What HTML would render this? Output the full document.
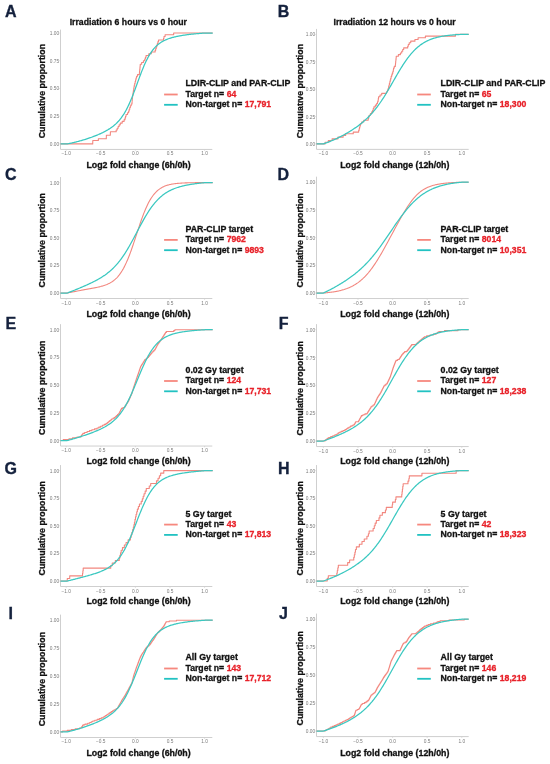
<!DOCTYPE html>
<html><head><meta charset="utf-8"><title>Cumulative distribution plots</title>
<style>
html,body{margin:0;padding:0;background:#fff;}
body{width:550px;height:764px;overflow:hidden;}
svg{display:block;}
text{font-family:"Liberation Sans", Arial, Helvetica, sans-serif;}
.let{font-size:16px;font-weight:bold;fill:#14213d;stroke:#14213d;stroke-width:0.35px;}
.lab{font-size:8.7px;font-weight:bold;fill:#111111;stroke:#111111;stroke-width:0.3px;}
.ylab{font-size:8.8px;}
.xlab{font-size:8.82px;}
.lgt{font-size:8.8px;}
.yt{font-size:4.8px;fill:#7a7a7a;text-anchor:end;}
.xt{font-size:4.8px;fill:#7a7a7a;text-anchor:middle;}
.ax{fill:none;stroke:#cfcfcf;stroke-width:1;}
.tk{fill:none;stroke:#cfcfcf;stroke-width:0.8;}
.red{fill:none;stroke:#f2877f;stroke-width:1.1;stroke-linejoin:round;}
.teal{fill:none;stroke:#3ac8c0;stroke-width:1.25;stroke-linejoin:round;}
</style></head>
<body><svg width="550" height="764" viewBox="0 0 550 764">
<text x="4.9" y="16.9" class="let">A</text>
<path d="M60.5 29.6 V149.44 H212.3" class="ax"/>
<path d="M59.3 143.9 H60.5" class="tk"/>
<text x="59.1" y="145.9" class="yt">0.00</text>
<path d="M59.3 116.18 H60.5" class="tk"/>
<text x="59.1" y="118.18" class="yt">0.25</text>
<path d="M59.3 88.45 H60.5" class="tk"/>
<text x="59.1" y="90.45" class="yt">0.50</text>
<path d="M59.3 60.72 H60.5" class="tk"/>
<text x="59.1" y="62.72" class="yt">0.75</text>
<path d="M59.3 33 H60.5" class="tk"/>
<text x="59.1" y="35" class="yt">1.00</text>
<path d="M66.22 149.44 V150.64" class="tk"/>
<text x="66.22" y="155.44" class="xt">−1.0</text>
<path d="M100.81 149.44 V150.64" class="tk"/>
<text x="100.81" y="155.44" class="xt">−0.5</text>
<path d="M135.4 149.44 V150.64" class="tk"/>
<text x="135.4" y="155.44" class="xt">0.0</text>
<path d="M169.99 149.44 V150.64" class="tk"/>
<text x="169.99" y="155.44" class="xt">0.5</text>
<path d="M204.58 149.44 V150.64" class="tk"/>
<text x="204.58" y="155.44" class="xt">1.0</text>
<path d="M60.5 143.9 H92.73 V142.17 H92.79 V140.43 H98.35 V138.7 H106.31 V136.97 H106.37 V135.24 H110.33 V133.5 H110.4 V131.77 H116.17 V130.04 H117.2 V128.3 H118.16 V126.57 H119.12 V124.84 H120.27 V123.11 H122.21 V121.37 H124.14 V119.64 H125.01 V117.91 H125.54 V116.18 H126.07 V114.44 H127.52 V112.71 H128.62 V110.98 H129.2 V109.24 H129.77 V107.51 H130.35 V105.78 H131.19 V104.05 H132.01 V102.31 H132.15 V100.58 H132.29 V98.85 H132.43 V97.11 H132.63 V95.38 H132.89 V93.65 H133.16 V91.92 H133.42 V90.18 H133.69 V88.45 H133.95 V86.72 H134.29 V84.98 H134.72 V83.25 H135.15 V81.52 H135.59 V79.79 H136.02 V78.05 H136.59 V76.32 H137.51 V74.59 H139.39 V72.85 H139.56 V71.12 H139.73 V69.39 H139.91 V67.66 H140.08 V65.92 H140.25 V64.19 H141.64 V62.46 H143.41 V60.72 H144.74 V58.99 H145.4 V57.26 H146.06 V55.53 H148.76 V53.79 H151.32 V52.06 H155.13 V50.33 H155.69 V48.6 H156.26 V46.86 H156.82 V45.13 H157.38 V43.4 H157.94 V41.66 H158.5 V39.93 H163.53 V38.2 H163.97 V36.47 H165.1 V34.73 H173.65 V33 H212.7" class="red"/>
<path d="M60.5 143.9 L67.42 143.9 L68.11 143.76 L68.8 143.62 L69.49 143.47 L70.19 143.32 L70.88 143.17 L71.57 143.02 L72.26 142.86 L72.95 142.7 L73.64 142.54 L74.34 142.38 L75.03 142.21 L75.72 142.04 L76.41 141.86 L77.1 141.69 L77.8 141.51 L78.49 141.32 L79.18 141.14 L79.87 140.95 L80.56 140.76 L81.25 140.56 L81.95 140.36 L82.64 140.16 L83.33 139.96 L84.02 139.75 L84.71 139.54 L85.41 139.32 L86.1 139.1 L86.79 138.88 L87.48 138.65 L88.17 138.42 L88.86 138.19 L89.56 137.95 L90.25 137.71 L90.94 137.47 L91.63 137.22 L92.32 136.97 L93.02 136.71 L93.71 136.45 L94.4 136.18 L95.09 135.91 L95.78 135.64 L96.47 135.36 L97.17 135.07 L97.86 134.78 L98.55 134.49 L99.24 134.18 L99.93 133.88 L100.63 133.56 L101.32 133.24 L102.01 132.91 L102.7 132.58 L103.39 132.23 L104.08 131.88 L104.78 131.52 L105.47 131.15 L106.16 130.77 L106.85 130.38 L107.54 129.97 L108.24 129.56 L108.93 129.13 L109.62 128.68 L110.31 128.23 L111 127.75 L111.69 127.26 L112.39 126.75 L113.08 126.22 L113.77 125.66 L114.46 125.09 L115.15 124.49 L115.85 123.86 L116.54 123.21 L117.23 122.52 L117.92 121.8 L118.61 121.05 L119.3 120.27 L120 119.44 L120.69 118.57 L121.38 117.67 L122.07 116.71 L122.76 115.71 L123.46 114.66 L124.15 113.57 L124.84 112.42 L125.53 111.21 L126.22 109.95 L126.91 108.64 L127.61 107.27 L128.3 105.85 L128.99 104.37 L129.68 102.84 L130.37 101.25 L131.07 99.61 L131.76 97.93 L132.45 96.2 L133.14 94.43 L133.83 92.63 L134.52 90.8 L135.22 88.94 L135.91 87.06 L136.6 85.17 L137.29 83.27 L137.98 81.37 L138.68 79.48 L139.37 77.61 L140.06 75.75 L140.75 73.93 L141.44 72.13 L142.13 70.37 L142.83 68.65 L143.52 66.98 L144.21 65.36 L144.9 63.79 L145.59 62.28 L146.29 60.83 L146.98 59.43 L147.67 58.1 L148.36 56.82 L149.05 55.6 L149.74 54.44 L150.44 53.34 L151.13 52.3 L151.82 51.31 L152.51 50.37 L153.2 49.49 L153.9 48.65 L154.59 47.86 L155.28 47.11 L155.97 46.41 L156.66 45.75 L157.35 45.12 L158.05 44.53 L158.74 43.98 L159.43 43.46 L160.12 42.96 L160.81 42.5 L161.51 42.06 L162.2 41.64 L162.89 41.25 L163.58 40.88 L164.27 40.53 L164.96 40.2 L165.66 39.88 L166.35 39.58 L167.04 39.3 L167.73 39.03 L168.42 38.77 L169.12 38.53 L169.81 38.3 L170.5 38.07 L171.19 37.86 L171.88 37.66 L172.57 37.47 L173.27 37.28 L173.96 37.1 L174.65 36.93 L175.34 36.77 L176.03 36.61 L176.73 36.46 L177.42 36.32 L178.11 36.18 L178.8 36.04 L179.49 35.91 L180.18 35.79 L180.88 35.66 L181.57 35.55 L182.26 35.43 L182.95 35.32 L183.64 35.22 L184.34 35.11 L185.03 35.01 L185.72 34.92 L186.41 34.82 L187.1 34.73 L187.79 34.64 L188.49 34.55 L189.18 34.47 L189.87 34.39 L190.56 34.31 L191.25 34.23 L191.95 34.16 L192.64 34.08 L193.33 34.01 L194.02 33.94 L194.71 33.88 L195.4 33.81 L196.1 33.75 L196.79 33.68 L197.48 33.62 L198.17 33.56 L198.86 33.51 L199.56 33.45 L200.25 33.39 L200.94 33.34 L201.63 33.29 L202.32 33.24 L203.01 33.19 L203.71 33.14 L204.4 33.09 L205.09 33.05 L205.78 33 L212.7 33" class="teal"/>
<text x="86.4" y="168.0" class="lab xlab">Log2 fold change (6h/0h)</text>
<text transform="translate(44.8 138.3) rotate(-90)" class="lab ylab">Cumulative proportion</text>
<text x="277.8" y="17.2" class="let">B</text>
<path d="M316.5 28.92 V149.38 H468.7" class="ax"/>
<path d="M315.3 143.9 H316.5" class="tk"/>
<text x="315.1" y="145.9" class="yt">0.00</text>
<path d="M315.3 116.53 H316.5" class="tk"/>
<text x="315.1" y="118.53" class="yt">0.25</text>
<path d="M315.3 89.15 H316.5" class="tk"/>
<text x="315.1" y="91.15" class="yt">0.50</text>
<path d="M315.3 61.78 H316.5" class="tk"/>
<text x="315.1" y="63.78" class="yt">0.75</text>
<path d="M315.3 34.4 H316.5" class="tk"/>
<text x="315.1" y="36.4" class="yt">1.00</text>
<path d="M323.42 149.38 V150.57" class="tk"/>
<text x="323.42" y="155.38" class="xt">−1.0</text>
<path d="M358.01 149.38 V150.57" class="tk"/>
<text x="358.01" y="155.38" class="xt">−0.5</text>
<path d="M392.6 149.38 V150.57" class="tk"/>
<text x="392.6" y="155.38" class="xt">0.0</text>
<path d="M427.19 149.38 V150.57" class="tk"/>
<text x="427.19" y="155.38" class="xt">0.5</text>
<path d="M461.78 149.38 V150.57" class="tk"/>
<text x="461.78" y="155.38" class="xt">1.0</text>
<path d="M316.5 143.9 H325.04 V142.22 H328.33 V140.53 H332.07 V138.85 H337.95 V137.16 H343.12 V135.48 H345.65 V133.79 H353.25 V132.11 H358.66 V130.42 H359.12 V128.74 H359.58 V127.05 H360.04 V125.37 H360.5 V123.68 H361.66 V122 H363.73 V120.32 H368.11 V118.63 H368.6 V116.95 H369.1 V115.26 H370.41 V113.58 H371.73 V111.89 H372.64 V110.21 H373.24 V108.52 H373.9 V106.84 H375.32 V105.15 H376.64 V103.47 H377.45 V101.78 H378.08 V100.1 H378.32 V98.42 H378.56 V96.73 H380.01 V95.05 H381.7 V93.36 H386.45 V91.68 H387.49 V89.99 H388.2 V88.31 H388.6 V86.62 H389 V84.94 H389.41 V83.25 H389.83 V81.57 H390.26 V79.88 H390.68 V78.2 H391.11 V76.52 H391.68 V74.83 H392.26 V73.15 H392.83 V71.46 H393.29 V69.78 H393.55 V68.09 H394.27 V66.41 H395.34 V64.72 H395.51 V63.04 H395.69 V61.35 H395.87 V59.67 H396.05 V57.98 H396.23 V56.3 H398.38 V54.62 H400.41 V52.93 H401.72 V51.25 H402.71 V49.56 H403.69 V47.88 H407.68 V46.19 H408.28 V44.51 H409.22 V42.82 H410.72 V41.14 H414.92 V39.45 H418.09 V37.77 H425.38 V36.08 H455.48 V34.4 H468.7" class="red"/>
<path d="M316.5 143.9 L323.42 143.9 L324.11 143.66 L324.8 143.42 L325.49 143.17 L326.19 142.92 L326.88 142.67 L327.57 142.4 L328.26 142.14 L328.95 141.87 L329.64 141.59 L330.34 141.31 L331.03 141.03 L331.72 140.74 L332.41 140.44 L333.1 140.14 L333.8 139.84 L334.49 139.53 L335.18 139.21 L335.87 138.9 L336.56 138.57 L337.25 138.24 L337.95 137.91 L338.64 137.57 L339.33 137.23 L340.02 136.88 L340.71 136.53 L341.41 136.17 L342.1 135.81 L342.79 135.44 L343.48 135.07 L344.17 134.69 L344.86 134.31 L345.56 133.92 L346.25 133.52 L346.94 133.12 L347.63 132.72 L348.32 132.31 L349.02 131.9 L349.71 131.47 L350.4 131.05 L351.09 130.61 L351.78 130.17 L352.47 129.73 L353.17 129.28 L353.86 128.82 L354.55 128.35 L355.24 127.87 L355.93 127.39 L356.63 126.9 L357.32 126.4 L358.01 125.9 L358.7 125.38 L359.39 124.86 L360.08 124.32 L360.78 123.78 L361.47 123.22 L362.16 122.66 L362.85 122.08 L363.54 121.49 L364.24 120.89 L364.93 120.28 L365.62 119.65 L366.31 119.01 L367 118.36 L367.69 117.69 L368.39 117.01 L369.08 116.31 L369.77 115.59 L370.46 114.86 L371.15 114.12 L371.85 113.35 L372.54 112.57 L373.23 111.77 L373.92 110.95 L374.61 110.12 L375.3 109.26 L376 108.39 L376.69 107.5 L377.38 106.59 L378.07 105.66 L378.76 104.71 L379.46 103.75 L380.15 102.76 L380.84 101.76 L381.53 100.73 L382.22 99.69 L382.91 98.63 L383.61 97.56 L384.3 96.47 L384.99 95.36 L385.68 94.24 L386.37 93.11 L387.07 91.96 L387.76 90.8 L388.45 89.63 L389.14 88.45 L389.83 87.26 L390.52 86.07 L391.22 84.86 L391.91 83.66 L392.6 82.45 L393.29 81.24 L393.98 80.03 L394.68 78.82 L395.37 77.62 L396.06 76.41 L396.75 75.22 L397.44 74.03 L398.13 72.85 L398.83 71.68 L399.52 70.53 L400.21 69.38 L400.9 68.25 L401.59 67.14 L402.29 66.04 L402.98 64.96 L403.67 63.89 L404.36 62.85 L405.05 61.83 L405.74 60.82 L406.44 59.84 L407.13 58.89 L407.82 57.95 L408.51 57.04 L409.2 56.15 L409.9 55.28 L410.59 54.44 L411.28 53.62 L411.97 52.83 L412.66 52.06 L413.35 51.31 L414.05 50.59 L414.74 49.89 L415.43 49.22 L416.12 48.57 L416.81 47.94 L417.51 47.33 L418.2 46.74 L418.89 46.18 L419.58 45.64 L420.27 45.12 L420.96 44.61 L421.66 44.13 L422.35 43.67 L423.04 43.22 L423.73 42.8 L424.42 42.39 L425.12 41.99 L425.81 41.62 L426.5 41.26 L427.19 40.91 L427.88 40.58 L428.57 40.27 L429.27 39.97 L429.96 39.68 L430.65 39.4 L431.34 39.14 L432.03 38.89 L432.73 38.65 L433.42 38.42 L434.11 38.2 L434.8 37.99 L435.49 37.79 L436.18 37.6 L436.88 37.42 L437.57 37.24 L438.26 37.08 L438.95 36.92 L439.64 36.77 L440.34 36.63 L441.03 36.49 L441.72 36.36 L442.41 36.24 L443.1 36.12 L443.79 36.01 L444.49 35.9 L445.18 35.8 L445.87 35.7 L446.56 35.61 L447.25 35.52 L447.95 35.44 L448.64 35.36 L449.33 35.28 L450.02 35.21 L450.71 35.14 L451.4 35.07 L452.1 35.01 L452.79 34.95 L453.48 34.9 L454.17 34.84 L454.86 34.79 L455.56 34.74 L456.25 34.7 L456.94 34.65 L457.63 34.61 L458.32 34.57 L459.01 34.53 L459.71 34.5 L460.4 34.46 L461.09 34.43 L461.78 34.4 L468.7 34.4" class="teal"/>
<text x="340.2" y="168.0" class="lab xlab">Log2 fold change (12h/0h)</text>
<text transform="translate(302.9 138.3) rotate(-90)" class="lab ylab">Cumulative proportion</text>
<text x="4.9" y="179.7" class="let">C</text>
<path d="M60.5 177.08 V298.52 H212.3" class="ax"/>
<path d="M59.3 293 H60.5" class="tk"/>
<text x="59.1" y="295" class="yt">0.00</text>
<path d="M59.3 265.4 H60.5" class="tk"/>
<text x="59.1" y="267.4" class="yt">0.25</text>
<path d="M59.3 237.8 H60.5" class="tk"/>
<text x="59.1" y="239.8" class="yt">0.50</text>
<path d="M59.3 210.2 H60.5" class="tk"/>
<text x="59.1" y="212.2" class="yt">0.75</text>
<path d="M59.3 182.6 H60.5" class="tk"/>
<text x="59.1" y="184.6" class="yt">1.00</text>
<path d="M66.22 298.52 V299.72" class="tk"/>
<text x="66.22" y="304.52" class="xt">−1.0</text>
<path d="M100.81 298.52 V299.72" class="tk"/>
<text x="100.81" y="304.52" class="xt">−0.5</text>
<path d="M135.4 298.52 V299.72" class="tk"/>
<text x="135.4" y="304.52" class="xt">0.0</text>
<path d="M169.99 298.52 V299.72" class="tk"/>
<text x="169.99" y="304.52" class="xt">0.5</text>
<path d="M204.58 298.52 V299.72" class="tk"/>
<text x="204.58" y="304.52" class="xt">1.0</text>
<path d="M60.5 293 L67.42 293 L68.11 292.86 L68.8 292.72 L69.49 292.58 L70.19 292.44 L70.88 292.3 L71.57 292.17 L72.26 292.03 L72.95 291.89 L73.64 291.75 L74.34 291.62 L75.03 291.48 L75.72 291.34 L76.41 291.21 L77.1 291.07 L77.8 290.94 L78.49 290.81 L79.18 290.68 L79.87 290.55 L80.56 290.42 L81.25 290.29 L81.95 290.16 L82.64 290.03 L83.33 289.91 L84.02 289.78 L84.71 289.65 L85.41 289.53 L86.1 289.41 L86.79 289.28 L87.48 289.16 L88.17 289.03 L88.86 288.91 L89.56 288.78 L90.25 288.66 L90.94 288.53 L91.63 288.41 L92.32 288.28 L93.02 288.15 L93.71 288.02 L94.4 287.88 L95.09 287.75 L95.78 287.61 L96.47 287.47 L97.17 287.32 L97.86 287.17 L98.55 287.01 L99.24 286.85 L99.93 286.68 L100.63 286.51 L101.32 286.32 L102.01 286.13 L102.7 285.93 L103.39 285.72 L104.08 285.5 L104.78 285.26 L105.47 285.02 L106.16 284.75 L106.85 284.48 L107.54 284.18 L108.24 283.87 L108.93 283.53 L109.62 283.18 L110.31 282.8 L111 282.39 L111.69 281.96 L112.39 281.5 L113.08 281.01 L113.77 280.49 L114.46 279.93 L115.15 279.33 L115.85 278.7 L116.54 278.02 L117.23 277.3 L117.92 276.53 L118.61 275.71 L119.3 274.84 L120 273.91 L120.69 272.93 L121.38 271.9 L122.07 270.8 L122.76 269.64 L123.46 268.42 L124.15 267.13 L124.84 265.77 L125.53 264.36 L126.22 262.87 L126.91 261.32 L127.61 259.71 L128.3 258.03 L128.99 256.29 L129.68 254.49 L130.37 252.64 L131.07 250.73 L131.76 248.78 L132.45 246.78 L133.14 244.75 L133.83 242.68 L134.52 240.59 L135.22 238.48 L135.91 236.36 L136.6 234.23 L137.29 232.11 L137.98 229.99 L138.68 227.89 L139.37 225.81 L140.06 223.76 L140.75 221.75 L141.44 219.77 L142.13 217.85 L142.83 215.97 L143.52 214.14 L144.21 212.38 L144.9 210.67 L145.59 209.03 L146.29 207.45 L146.98 205.94 L147.67 204.5 L148.36 203.12 L149.05 201.81 L149.74 200.56 L150.44 199.38 L151.13 198.26 L151.82 197.21 L152.51 196.21 L153.2 195.27 L153.9 194.39 L154.59 193.56 L155.28 192.79 L155.97 192.06 L156.66 191.38 L157.35 190.75 L158.05 190.16 L158.74 189.6 L159.43 189.09 L160.12 188.61 L160.81 188.16 L161.51 187.75 L162.2 187.36 L162.89 187 L163.58 186.67 L164.27 186.36 L164.96 186.07 L165.66 185.81 L166.35 185.56 L167.04 185.34 L167.73 185.13 L168.42 184.93 L169.12 184.75 L169.81 184.58 L170.5 184.43 L171.19 184.29 L171.88 184.16 L172.57 184.03 L173.27 183.92 L173.96 183.82 L174.65 183.72 L175.34 183.63 L176.03 183.55 L176.73 183.48 L177.42 183.41 L178.11 183.34 L178.8 183.28 L179.49 183.23 L180.18 183.18 L180.88 183.13 L181.57 183.09 L182.26 183.05 L182.95 183.01 L183.64 182.97 L184.34 182.94 L185.03 182.91 L185.72 182.89 L186.41 182.86 L187.1 182.84 L187.79 182.82 L188.49 182.8 L189.18 182.78 L189.87 182.77 L190.56 182.75 L191.25 182.74 L191.95 182.72 L192.64 182.71 L193.33 182.7 L194.02 182.69 L194.71 182.68 L195.4 182.67 L196.1 182.66 L196.79 182.66 L197.48 182.65 L198.17 182.64 L198.86 182.64 L199.56 182.63 L200.25 182.63 L200.94 182.62 L201.63 182.62 L202.32 182.62 L203.01 182.61 L203.71 182.61 L204.4 182.61 L205.09 182.6 L205.78 182.6 L212.7 182.6" class="red"/>
<path d="M60.5 293 L67.42 293 L68.11 292.73 L68.8 292.45 L69.49 292.18 L70.19 291.91 L70.88 291.63 L71.57 291.36 L72.26 291.08 L72.95 290.8 L73.64 290.52 L74.34 290.24 L75.03 289.96 L75.72 289.68 L76.41 289.4 L77.1 289.11 L77.8 288.83 L78.49 288.54 L79.18 288.25 L79.87 287.96 L80.56 287.67 L81.25 287.38 L81.95 287.08 L82.64 286.79 L83.33 286.49 L84.02 286.19 L84.71 285.89 L85.41 285.58 L86.1 285.27 L86.79 284.96 L87.48 284.65 L88.17 284.34 L88.86 284.02 L89.56 283.69 L90.25 283.37 L90.94 283.04 L91.63 282.7 L92.32 282.37 L93.02 282.02 L93.71 281.68 L94.4 281.32 L95.09 280.96 L95.78 280.6 L96.47 280.23 L97.17 279.85 L97.86 279.47 L98.55 279.08 L99.24 278.68 L99.93 278.27 L100.63 277.86 L101.32 277.43 L102.01 277 L102.7 276.55 L103.39 276.1 L104.08 275.63 L104.78 275.16 L105.47 274.67 L106.16 274.16 L106.85 273.65 L107.54 273.12 L108.24 272.57 L108.93 272.01 L109.62 271.44 L110.31 270.85 L111 270.24 L111.69 269.61 L112.39 268.96 L113.08 268.3 L113.77 267.61 L114.46 266.91 L115.15 266.18 L115.85 265.43 L116.54 264.66 L117.23 263.87 L117.92 263.06 L118.61 262.22 L119.3 261.35 L120 260.47 L120.69 259.55 L121.38 258.62 L122.07 257.66 L122.76 256.67 L123.46 255.66 L124.15 254.63 L124.84 253.57 L125.53 252.49 L126.22 251.38 L126.91 250.25 L127.61 249.1 L128.3 247.93 L128.99 246.74 L129.68 245.53 L130.37 244.31 L131.07 243.06 L131.76 241.8 L132.45 240.53 L133.14 239.25 L133.83 237.96 L134.52 236.65 L135.22 235.35 L135.91 234.03 L136.6 232.72 L137.29 231.4 L137.98 230.09 L138.68 228.78 L139.37 227.47 L140.06 226.17 L140.75 224.88 L141.44 223.6 L142.13 222.34 L142.83 221.08 L143.52 219.85 L144.21 218.63 L144.9 217.43 L145.59 216.25 L146.29 215.1 L146.98 213.96 L147.67 212.85 L148.36 211.77 L149.05 210.71 L149.74 209.67 L150.44 208.66 L151.13 207.68 L151.82 206.73 L152.51 205.8 L153.2 204.9 L153.9 204.03 L154.59 203.19 L155.28 202.37 L155.97 201.58 L156.66 200.81 L157.35 200.08 L158.05 199.37 L158.74 198.68 L159.43 198.02 L160.12 197.38 L160.81 196.77 L161.51 196.18 L162.2 195.61 L162.89 195.07 L163.58 194.54 L164.27 194.04 L164.96 193.55 L165.66 193.09 L166.35 192.64 L167.04 192.21 L167.73 191.8 L168.42 191.41 L169.12 191.03 L169.81 190.67 L170.5 190.32 L171.19 189.98 L171.88 189.66 L172.57 189.35 L173.27 189.06 L173.96 188.77 L174.65 188.5 L175.34 188.24 L176.03 187.99 L176.73 187.75 L177.42 187.51 L178.11 187.29 L178.8 187.08 L179.49 186.87 L180.18 186.67 L180.88 186.48 L181.57 186.3 L182.26 186.12 L182.95 185.95 L183.64 185.79 L184.34 185.63 L185.03 185.48 L185.72 185.33 L186.41 185.19 L187.1 185.05 L187.79 184.92 L188.49 184.79 L189.18 184.67 L189.87 184.55 L190.56 184.43 L191.25 184.32 L191.95 184.21 L192.64 184.11 L193.33 184.01 L194.02 183.91 L194.71 183.81 L195.4 183.72 L196.1 183.63 L196.79 183.54 L197.48 183.46 L198.17 183.38 L198.86 183.3 L199.56 183.22 L200.25 183.14 L200.94 183.07 L201.63 183 L202.32 182.93 L203.01 182.86 L203.71 182.79 L204.4 182.73 L205.09 182.66 L205.78 182.6 L212.7 182.6" class="teal"/>
<text x="86.4" y="317.0" class="lab xlab">Log2 fold change (6h/0h)</text>
<text transform="translate(44.8 287.4) rotate(-90)" class="lab ylab">Cumulative proportion</text>
<text x="277.6" y="179.6" class="let">D</text>
<path d="M316.5 176.66 V298.54 H468.7" class="ax"/>
<path d="M315.3 293 H316.5" class="tk"/>
<text x="315.1" y="295" class="yt">0.00</text>
<path d="M315.3 265.3 H316.5" class="tk"/>
<text x="315.1" y="267.3" class="yt">0.25</text>
<path d="M315.3 237.6 H316.5" class="tk"/>
<text x="315.1" y="239.6" class="yt">0.50</text>
<path d="M315.3 209.9 H316.5" class="tk"/>
<text x="315.1" y="211.9" class="yt">0.75</text>
<path d="M315.3 182.2 H316.5" class="tk"/>
<text x="315.1" y="184.2" class="yt">1.00</text>
<path d="M323.42 298.54 V299.74" class="tk"/>
<text x="323.42" y="304.54" class="xt">−1.0</text>
<path d="M358.01 298.54 V299.74" class="tk"/>
<text x="358.01" y="304.54" class="xt">−0.5</text>
<path d="M392.6 298.54 V299.74" class="tk"/>
<text x="392.6" y="304.54" class="xt">0.0</text>
<path d="M427.19 298.54 V299.74" class="tk"/>
<text x="427.19" y="304.54" class="xt">0.5</text>
<path d="M461.78 298.54 V299.74" class="tk"/>
<text x="461.78" y="304.54" class="xt">1.0</text>
<path d="M316.5 293 L323.42 293 L324.11 292.95 L324.8 292.89 L325.49 292.83 L326.19 292.77 L326.88 292.7 L327.57 292.63 L328.26 292.56 L328.95 292.48 L329.64 292.4 L330.34 292.32 L331.03 292.23 L331.72 292.14 L332.41 292.05 L333.1 291.94 L333.8 291.84 L334.49 291.73 L335.18 291.61 L335.87 291.49 L336.56 291.36 L337.25 291.23 L337.95 291.09 L338.64 290.94 L339.33 290.79 L340.02 290.62 L340.71 290.46 L341.41 290.28 L342.1 290.09 L342.79 289.9 L343.48 289.7 L344.17 289.49 L344.86 289.26 L345.56 289.03 L346.25 288.79 L346.94 288.54 L347.63 288.27 L348.32 287.99 L349.02 287.7 L349.71 287.4 L350.4 287.09 L351.09 286.76 L351.78 286.42 L352.47 286.06 L353.17 285.69 L353.86 285.3 L354.55 284.89 L355.24 284.47 L355.93 284.04 L356.63 283.58 L357.32 283.11 L358.01 282.62 L358.7 282.1 L359.39 281.57 L360.08 281.02 L360.78 280.45 L361.47 279.86 L362.16 279.25 L362.85 278.62 L363.54 277.96 L364.24 277.28 L364.93 276.58 L365.62 275.86 L366.31 275.11 L367 274.34 L367.69 273.55 L368.39 272.74 L369.08 271.9 L369.77 271.04 L370.46 270.15 L371.15 269.24 L371.85 268.31 L372.54 267.36 L373.23 266.38 L373.92 265.39 L374.61 264.37 L375.3 263.33 L376 262.27 L376.69 261.19 L377.38 260.09 L378.07 258.98 L378.76 257.84 L379.46 256.69 L380.15 255.53 L380.84 254.35 L381.53 253.15 L382.22 251.94 L382.91 250.72 L383.61 249.49 L384.3 248.25 L384.99 247 L385.68 245.75 L386.37 244.48 L387.07 243.21 L387.76 241.94 L388.45 240.66 L389.14 239.37 L389.83 238.09 L390.52 236.8 L391.22 235.51 L391.91 234.23 L392.6 232.94 L393.29 231.65 L393.98 230.37 L394.68 229.09 L395.37 227.81 L396.06 226.53 L396.75 225.26 L397.44 224 L398.13 222.74 L398.83 221.49 L399.52 220.25 L400.21 219.01 L400.9 217.78 L401.59 216.57 L402.29 215.36 L402.98 214.17 L403.67 212.99 L404.36 211.83 L405.05 210.68 L405.74 209.56 L406.44 208.45 L407.13 207.36 L407.82 206.29 L408.51 205.25 L409.2 204.23 L409.9 203.24 L410.59 202.27 L411.28 201.33 L411.97 200.42 L412.66 199.54 L413.35 198.69 L414.05 197.87 L414.74 197.08 L415.43 196.32 L416.12 195.59 L416.81 194.89 L417.51 194.22 L418.2 193.59 L418.89 192.97 L419.58 192.39 L420.27 191.84 L420.96 191.31 L421.66 190.81 L422.35 190.33 L423.04 189.88 L423.73 189.44 L424.42 189.04 L425.12 188.65 L425.81 188.28 L426.5 187.94 L427.19 187.61 L427.88 187.3 L428.57 187 L429.27 186.72 L429.96 186.46 L430.65 186.21 L431.34 185.98 L432.03 185.75 L432.73 185.54 L433.42 185.34 L434.11 185.16 L434.8 184.98 L435.49 184.81 L436.18 184.65 L436.88 184.5 L437.57 184.36 L438.26 184.22 L438.95 184.1 L439.64 183.98 L440.34 183.86 L441.03 183.75 L441.72 183.65 L442.41 183.56 L443.1 183.46 L443.79 183.38 L444.49 183.3 L445.18 183.22 L445.87 183.15 L446.56 183.08 L447.25 183.01 L447.95 182.95 L448.64 182.89 L449.33 182.83 L450.02 182.78 L450.71 182.73 L451.4 182.68 L452.1 182.64 L452.79 182.59 L453.48 182.55 L454.17 182.51 L454.86 182.48 L455.56 182.44 L456.25 182.41 L456.94 182.38 L457.63 182.35 L458.32 182.32 L459.01 182.29 L459.71 182.27 L460.4 182.24 L461.09 182.22 L461.78 182.2 L468.7 182.2" class="red"/>
<path d="M316.5 293 L323.42 293 L324.11 292.68 L324.8 292.35 L325.49 292.01 L326.19 291.68 L326.88 291.34 L327.57 291 L328.26 290.65 L328.95 290.3 L329.64 289.94 L330.34 289.58 L331.03 289.22 L331.72 288.86 L332.41 288.49 L333.1 288.11 L333.8 287.74 L334.49 287.35 L335.18 286.97 L335.87 286.58 L336.56 286.19 L337.25 285.79 L337.95 285.39 L338.64 284.98 L339.33 284.57 L340.02 284.16 L340.71 283.74 L341.41 283.32 L342.1 282.89 L342.79 282.46 L343.48 282.02 L344.17 281.57 L344.86 281.13 L345.56 280.67 L346.25 280.21 L346.94 279.75 L347.63 279.28 L348.32 278.8 L349.02 278.32 L349.71 277.83 L350.4 277.33 L351.09 276.83 L351.78 276.32 L352.47 275.8 L353.17 275.28 L353.86 274.74 L354.55 274.2 L355.24 273.65 L355.93 273.1 L356.63 272.53 L357.32 271.95 L358.01 271.37 L358.7 270.78 L359.39 270.17 L360.08 269.56 L360.78 268.93 L361.47 268.3 L362.16 267.66 L362.85 267 L363.54 266.33 L364.24 265.66 L364.93 264.97 L365.62 264.27 L366.31 263.56 L367 262.83 L367.69 262.1 L368.39 261.35 L369.08 260.59 L369.77 259.82 L370.46 259.03 L371.15 258.23 L371.85 257.43 L372.54 256.6 L373.23 255.77 L373.92 254.93 L374.61 254.07 L375.3 253.2 L376 252.32 L376.69 251.43 L377.38 250.53 L378.07 249.61 L378.76 248.69 L379.46 247.75 L380.15 246.81 L380.84 245.86 L381.53 244.9 L382.22 243.93 L382.91 242.95 L383.61 241.96 L384.3 240.97 L384.99 239.97 L385.68 238.97 L386.37 237.96 L387.07 236.95 L387.76 235.93 L388.45 234.91 L389.14 233.89 L389.83 232.87 L390.52 231.84 L391.22 230.82 L391.91 229.8 L392.6 228.77 L393.29 227.76 L393.98 226.74 L394.68 225.73 L395.37 224.72 L396.06 223.72 L396.75 222.73 L397.44 221.74 L398.13 220.76 L398.83 219.78 L399.52 218.82 L400.21 217.86 L400.9 216.92 L401.59 215.99 L402.29 215.06 L402.98 214.15 L403.67 213.26 L404.36 212.37 L405.05 211.5 L405.74 210.64 L406.44 209.79 L407.13 208.96 L407.82 208.15 L408.51 207.34 L409.2 206.56 L409.9 205.79 L410.59 205.03 L411.28 204.29 L411.97 203.57 L412.66 202.86 L413.35 202.16 L414.05 201.49 L414.74 200.83 L415.43 200.18 L416.12 199.55 L416.81 198.94 L417.51 198.34 L418.2 197.75 L418.89 197.19 L419.58 196.63 L420.27 196.1 L420.96 195.57 L421.66 195.07 L422.35 194.57 L423.04 194.09 L423.73 193.63 L424.42 193.17 L425.12 192.74 L425.81 192.31 L426.5 191.9 L427.19 191.5 L427.88 191.11 L428.57 190.74 L429.27 190.38 L429.96 190.03 L430.65 189.69 L431.34 189.36 L432.03 189.04 L432.73 188.73 L433.42 188.44 L434.11 188.15 L434.8 187.87 L435.49 187.6 L436.18 187.34 L436.88 187.09 L437.57 186.85 L438.26 186.62 L438.95 186.4 L439.64 186.18 L440.34 185.97 L441.03 185.77 L441.72 185.57 L442.41 185.39 L443.1 185.21 L443.79 185.03 L444.49 184.86 L445.18 184.7 L445.87 184.55 L446.56 184.4 L447.25 184.25 L447.95 184.11 L448.64 183.98 L449.33 183.85 L450.02 183.72 L450.71 183.6 L451.4 183.49 L452.1 183.38 L452.79 183.27 L453.48 183.17 L454.17 183.07 L454.86 182.97 L455.56 182.88 L456.25 182.79 L456.94 182.71 L457.63 182.63 L458.32 182.55 L459.01 182.47 L459.71 182.4 L460.4 182.33 L461.09 182.26 L461.78 182.2 L468.7 182.2" class="teal"/>
<text x="340.2" y="317.0" class="lab xlab">Log2 fold change (12h/0h)</text>
<text transform="translate(302.9 287.4) rotate(-90)" class="lab ylab">Cumulative proportion</text>
<text x="5.5" y="328.9" class="let">E</text>
<path d="M60.5 324.16 V446.04 H212.3" class="ax"/>
<path d="M59.3 440.5 H60.5" class="tk"/>
<text x="59.1" y="442.5" class="yt">0.00</text>
<path d="M59.3 412.8 H60.5" class="tk"/>
<text x="59.1" y="414.8" class="yt">0.25</text>
<path d="M59.3 385.1 H60.5" class="tk"/>
<text x="59.1" y="387.1" class="yt">0.50</text>
<path d="M59.3 357.4 H60.5" class="tk"/>
<text x="59.1" y="359.4" class="yt">0.75</text>
<path d="M59.3 329.7 H60.5" class="tk"/>
<text x="59.1" y="331.7" class="yt">1.00</text>
<path d="M66.22 446.04 V447.24" class="tk"/>
<text x="66.22" y="452.04" class="xt">−1.0</text>
<path d="M100.81 446.04 V447.24" class="tk"/>
<text x="100.81" y="452.04" class="xt">−0.5</text>
<path d="M135.4 446.04 V447.24" class="tk"/>
<text x="135.4" y="452.04" class="xt">0.0</text>
<path d="M169.99 446.04 V447.24" class="tk"/>
<text x="169.99" y="452.04" class="xt">0.5</text>
<path d="M204.58 446.04 V447.24" class="tk"/>
<text x="204.58" y="452.04" class="xt">1.0</text>
<path d="M60.5 440.5 H63.23 V439.61 H68.96 V438.71 H72.54 V437.82 H76.94 V436.93 H80.89 V436.03 H81.56 V435.14 H82.23 V434.25 H82.9 V433.35 H84.62 V432.46 H87.07 V431.56 H89.45 V430.67 H91.84 V429.78 H94.51 V428.88 H97.03 V427.99 H98.81 V427.1 H100.6 V426.2 H102.39 V425.31 H104.17 V424.42 H105.96 V423.52 H107.17 V422.63 H108.24 V421.74 H109.31 V420.84 H110.39 V419.95 H111.6 V419.05 H113.09 V418.16 H114.58 V417.27 H115.68 V416.37 H116.57 V415.48 H117.47 V414.59 H118.36 V413.69 H119.18 V412.8 H119.62 V411.91 H120.07 V411.01 H120.52 V410.12 H120.96 V409.23 H121.41 V408.33 H122.93 V407.44 H124.71 V406.55 H125.26 V405.65 H125.82 V404.76 H126.38 V403.86 H126.94 V402.97 H127.5 V402.08 H128.06 V401.18 H128.61 V400.29 H129.03 V399.4 H129.42 V398.5 H129.8 V397.61 H130.19 V396.72 H130.58 V395.82 H130.97 V394.93 H131.36 V394.04 H131.74 V393.14 H132.09 V392.25 H132.35 V391.35 H132.62 V390.46 H132.88 V389.57 H133.14 V388.67 H133.4 V387.78 H133.69 V386.89 H133.98 V385.99 H134.28 V385.1 H134.57 V384.21 H134.87 V383.31 H135.16 V382.42 H135.45 V381.53 H135.75 V380.63 H136.04 V379.74 H136.34 V378.85 H136.63 V377.95 H136.94 V377.06 H137.25 V376.16 H137.56 V375.27 H137.87 V374.38 H138.17 V373.48 H138.48 V372.59 H138.79 V371.7 H139.1 V370.8 H139.4 V369.91 H139.71 V369.02 H140.02 V368.12 H140.33 V367.23 H140.63 V366.34 H141.07 V365.44 H141.67 V364.55 H142.27 V363.65 H142.82 V362.76 H143.35 V361.87 H143.89 V360.97 H144.42 V360.08 H145.15 V359.19 H146.35 V358.29 H147.54 V357.4 H148.44 V356.51 H149.17 V355.61 H149.9 V354.72 H150.62 V353.83 H151.35 V352.93 H152.11 V352.04 H153.01 V351.15 H153.9 V350.25 H154.8 V349.36 H155.39 V348.46 H155.84 V347.57 H156.29 V346.68 H156.73 V345.78 H157.18 V344.89 H157.69 V344 H158.34 V343.1 H158.99 V342.21 H159.64 V341.32 H160.29 V340.42 H160.94 V339.53 H161.57 V338.64 H162.13 V337.74 H162.69 V336.85 H163.25 V335.95 H163.81 V335.06 H164.37 V334.17 H164.92 V333.27 H165.48 V332.38 H166.37 V331.49 H173.71 V330.59 H174.9 V329.7 H212.7" class="red"/>
<path d="M60.5 440.5 L67.42 440.5 L68.11 440.31 L68.8 440.13 L69.49 439.94 L70.19 439.75 L70.88 439.55 L71.57 439.36 L72.26 439.16 L72.95 438.96 L73.64 438.76 L74.34 438.56 L75.03 438.36 L75.72 438.15 L76.41 437.94 L77.1 437.73 L77.8 437.52 L78.49 437.31 L79.18 437.09 L79.87 436.88 L80.56 436.66 L81.25 436.44 L81.95 436.21 L82.64 435.99 L83.33 435.76 L84.02 435.53 L84.71 435.3 L85.41 435.07 L86.1 434.83 L86.79 434.59 L87.48 434.35 L88.17 434.1 L88.86 433.86 L89.56 433.61 L90.25 433.35 L90.94 433.1 L91.63 432.84 L92.32 432.57 L93.02 432.31 L93.71 432.04 L94.4 431.76 L95.09 431.48 L95.78 431.2 L96.47 430.91 L97.17 430.62 L97.86 430.32 L98.55 430.01 L99.24 429.7 L99.93 429.38 L100.63 429.06 L101.32 428.72 L102.01 428.38 L102.7 428.03 L103.39 427.67 L104.08 427.3 L104.78 426.93 L105.47 426.53 L106.16 426.13 L106.85 425.72 L107.54 425.29 L108.24 424.84 L108.93 424.39 L109.62 423.91 L110.31 423.42 L111 422.91 L111.69 422.38 L112.39 421.82 L113.08 421.25 L113.77 420.65 L114.46 420.03 L115.15 419.38 L115.85 418.71 L116.54 418.01 L117.23 417.27 L117.92 416.51 L118.61 415.71 L119.3 414.88 L120 414.01 L120.69 413.11 L121.38 412.17 L122.07 411.19 L122.76 410.17 L123.46 409.11 L124.15 408.01 L124.84 406.86 L125.53 405.68 L126.22 404.45 L126.91 403.18 L127.61 401.87 L128.3 400.51 L128.99 399.12 L129.68 397.69 L130.37 396.22 L131.07 394.72 L131.76 393.19 L132.45 391.62 L133.14 390.03 L133.83 388.41 L134.52 386.77 L135.22 385.12 L135.91 383.45 L136.6 381.78 L137.29 380.09 L137.98 378.41 L138.68 376.73 L139.37 375.06 L140.06 373.4 L140.75 371.76 L141.44 370.14 L142.13 368.54 L142.83 366.97 L143.52 365.42 L144.21 363.91 L144.9 362.44 L145.59 361 L146.29 359.61 L146.98 358.25 L147.67 356.94 L148.36 355.67 L149.05 354.45 L149.74 353.27 L150.44 352.14 L151.13 351.05 L151.82 350.01 L152.51 349.01 L153.2 348.06 L153.9 347.15 L154.59 346.28 L155.28 345.45 L155.97 344.66 L156.66 343.91 L157.35 343.2 L158.05 342.52 L158.74 341.88 L159.43 341.27 L160.12 340.69 L160.81 340.14 L161.51 339.62 L162.2 339.13 L162.89 338.66 L163.58 338.22 L164.27 337.8 L164.96 337.4 L165.66 337.02 L166.35 336.67 L167.04 336.33 L167.73 336.01 L168.42 335.71 L169.12 335.42 L169.81 335.14 L170.5 334.88 L171.19 334.64 L171.88 334.41 L172.57 334.18 L173.27 333.97 L173.96 333.77 L174.65 333.58 L175.34 333.4 L176.03 333.22 L176.73 333.06 L177.42 332.9 L178.11 332.75 L178.8 332.6 L179.49 332.47 L180.18 332.33 L180.88 332.21 L181.57 332.09 L182.26 331.97 L182.95 331.86 L183.64 331.75 L184.34 331.65 L185.03 331.55 L185.72 331.45 L186.41 331.36 L187.1 331.27 L187.79 331.19 L188.49 331.11 L189.18 331.03 L189.87 330.95 L190.56 330.88 L191.25 330.81 L191.95 330.74 L192.64 330.67 L193.33 330.6 L194.02 330.54 L194.71 330.48 L195.4 330.42 L196.1 330.36 L196.79 330.31 L197.48 330.25 L198.17 330.2 L198.86 330.15 L199.56 330.1 L200.25 330.05 L200.94 330 L201.63 329.95 L202.32 329.91 L203.01 329.87 L203.71 329.82 L204.4 329.78 L205.09 329.74 L205.78 329.7 L212.7 329.7" class="teal"/>
<text x="86.4" y="463.8" class="lab xlab">Log2 fold change (6h/0h)</text>
<text transform="translate(44.8 434.9) rotate(-90)" class="lab ylab">Cumulative proportion</text>
<text x="278.7" y="328.9" class="let">F</text>
<path d="M316.5 324.13 V446.56 H468.7" class="ax"/>
<path d="M315.3 441 H316.5" class="tk"/>
<text x="315.1" y="443" class="yt">0.00</text>
<path d="M315.3 413.18 H316.5" class="tk"/>
<text x="315.1" y="415.18" class="yt">0.25</text>
<path d="M315.3 385.35 H316.5" class="tk"/>
<text x="315.1" y="387.35" class="yt">0.50</text>
<path d="M315.3 357.52 H316.5" class="tk"/>
<text x="315.1" y="359.52" class="yt">0.75</text>
<path d="M315.3 329.7 H316.5" class="tk"/>
<text x="315.1" y="331.7" class="yt">1.00</text>
<path d="M323.42 446.56 V447.76" class="tk"/>
<text x="323.42" y="452.56" class="xt">−1.0</text>
<path d="M358.01 446.56 V447.76" class="tk"/>
<text x="358.01" y="452.56" class="xt">−0.5</text>
<path d="M392.6 446.56 V447.76" class="tk"/>
<text x="392.6" y="452.56" class="xt">0.0</text>
<path d="M427.19 446.56 V447.76" class="tk"/>
<text x="427.19" y="452.56" class="xt">0.5</text>
<path d="M461.78 446.56 V447.76" class="tk"/>
<text x="461.78" y="452.56" class="xt">1.0</text>
<path d="M316.5 441 H325.09 V440.12 H326.17 V439.25 H327.25 V438.37 H328.64 V437.49 H330.72 V436.62 H332.8 V435.74 H334.89 V434.87 H336.89 V433.99 H338 V433.11 H339.11 V432.24 H341.04 V431.36 H343.05 V430.48 H344.95 V429.61 H346.35 V428.73 H347.75 V427.85 H349.15 V426.98 H350.56 V426.1 H352.17 V425.23 H353.93 V424.35 H354.68 V423.47 H355.16 V422.6 H355.65 V421.72 H358.53 V420.84 H359 V419.97 H359.48 V419.09 H359.95 V418.21 H360.43 V417.34 H360.9 V416.46 H361.38 V415.59 H362.93 V414.71 H364.96 V413.83 H367.1 V412.96 H367.65 V412.08 H368.2 V411.2 H368.75 V410.33 H369.29 V409.45 H369.84 V408.57 H370.39 V407.7 H370.94 V406.82 H371.92 V405.94 H373.09 V405.07 H374.26 V404.19 H374.68 V403.32 H375.08 V402.44 H375.47 V401.56 H375.87 V400.69 H376.26 V399.81 H376.66 V398.93 H377.05 V398.06 H377.45 V397.18 H378 V396.3 H378.59 V395.43 H379.17 V394.55 H379.76 V393.68 H380.34 V392.8 H380.87 V391.92 H381.31 V391.05 H381.75 V390.17 H382.18 V389.29 H382.62 V388.42 H383.06 V387.54 H383.5 V386.66 H383.98 V385.79 H384.99 V384.91 H385.99 V384.04 H386.99 V383.16 H387.47 V382.28 H387.88 V381.41 H388.29 V380.53 H388.7 V379.65 H389.12 V378.78 H389.53 V377.9 H389.94 V377.02 H390.34 V376.15 H390.62 V375.27 H390.9 V374.4 H391.19 V373.52 H391.47 V372.64 H391.75 V371.77 H392.03 V370.89 H392.32 V370.01 H392.6 V369.14 H392.88 V368.26 H393.17 V367.38 H393.46 V366.51 H393.8 V365.63 H394.14 V364.76 H394.48 V363.88 H394.82 V363 H395.16 V362.13 H395.5 V361.25 H395.97 V360.37 H397.62 V359.5 H399.23 V358.62 H399.81 V357.74 H400.4 V356.87 H400.98 V355.99 H401.56 V355.11 H402.15 V354.24 H402.9 V353.36 H403.78 V352.49 H404.65 V351.61 H406.9 V350.73 H407.7 V349.86 H408.36 V348.98 H409.02 V348.1 H409.68 V347.23 H410.33 V346.35 H410.99 V345.47 H411.65 V344.6 H416.17 V343.72 H417.14 V342.85 H418.11 V341.97 H419.09 V341.09 H420.07 V340.22 H421.13 V339.34 H422.18 V338.46 H423.23 V337.59 H424.28 V336.71 H426.65 V335.83 H429.91 V334.96 H433.42 V334.08 H436.27 V333.21 H437.55 V332.33 H438.82 V331.45 H444.43 V330.58 H458.08 V329.7 H468.7" class="red"/>
<path d="M316.5 441 L323.42 441 L324.11 440.75 L324.8 440.5 L325.49 440.25 L326.19 439.99 L326.88 439.74 L327.57 439.48 L328.26 439.22 L328.95 438.96 L329.64 438.7 L330.34 438.43 L331.03 438.16 L331.72 437.89 L332.41 437.62 L333.1 437.35 L333.8 437.07 L334.49 436.8 L335.18 436.51 L335.87 436.23 L336.56 435.95 L337.25 435.66 L337.95 435.36 L338.64 435.07 L339.33 434.77 L340.02 434.47 L340.71 434.16 L341.41 433.85 L342.1 433.54 L342.79 433.22 L343.48 432.9 L344.17 432.57 L344.86 432.24 L345.56 431.9 L346.25 431.56 L346.94 431.21 L347.63 430.85 L348.32 430.49 L349.02 430.12 L349.71 429.75 L350.4 429.37 L351.09 428.98 L351.78 428.58 L352.47 428.17 L353.17 427.76 L353.86 427.33 L354.55 426.9 L355.24 426.46 L355.93 426 L356.63 425.54 L357.32 425.06 L358.01 424.57 L358.7 424.07 L359.39 423.56 L360.08 423.03 L360.78 422.49 L361.47 421.94 L362.16 421.37 L362.85 420.79 L363.54 420.19 L364.24 419.57 L364.93 418.94 L365.62 418.29 L366.31 417.62 L367 416.94 L367.69 416.24 L368.39 415.52 L369.08 414.78 L369.77 414.02 L370.46 413.24 L371.15 412.44 L371.85 411.62 L372.54 410.78 L373.23 409.92 L373.92 409.04 L374.61 408.14 L375.3 407.22 L376 406.27 L376.69 405.31 L377.38 404.33 L378.07 403.32 L378.76 402.3 L379.46 401.26 L380.15 400.2 L380.84 399.12 L381.53 398.02 L382.22 396.9 L382.91 395.77 L383.61 394.63 L384.3 393.46 L384.99 392.29 L385.68 391.1 L386.37 389.9 L387.07 388.69 L387.76 387.48 L388.45 386.25 L389.14 385.02 L389.83 383.78 L390.52 382.54 L391.22 381.29 L391.91 380.05 L392.6 378.8 L393.29 377.56 L393.98 376.32 L394.68 375.09 L395.37 373.86 L396.06 372.64 L396.75 371.42 L397.44 370.22 L398.13 369.03 L398.83 367.85 L399.52 366.69 L400.21 365.54 L400.9 364.41 L401.59 363.29 L402.29 362.19 L402.98 361.11 L403.67 360.05 L404.36 359.01 L405.05 357.99 L405.74 357 L406.44 356.02 L407.13 355.07 L407.82 354.14 L408.51 353.23 L409.2 352.35 L409.9 351.49 L410.59 350.65 L411.28 349.83 L411.97 349.04 L412.66 348.28 L413.35 347.53 L414.05 346.81 L414.74 346.11 L415.43 345.43 L416.12 344.78 L416.81 344.15 L417.51 343.54 L418.2 342.95 L418.89 342.38 L419.58 341.83 L420.27 341.3 L420.96 340.79 L421.66 340.29 L422.35 339.82 L423.04 339.37 L423.73 338.93 L424.42 338.5 L425.12 338.1 L425.81 337.71 L426.5 337.34 L427.19 336.98 L427.88 336.63 L428.57 336.3 L429.27 335.98 L429.96 335.68 L430.65 335.38 L431.34 335.1 L432.03 334.84 L432.73 334.58 L433.42 334.33 L434.11 334.09 L434.8 333.87 L435.49 333.65 L436.18 333.44 L436.88 333.24 L437.57 333.05 L438.26 332.87 L438.95 332.69 L439.64 332.53 L440.34 332.36 L441.03 332.21 L441.72 332.06 L442.41 331.92 L443.1 331.79 L443.79 331.66 L444.49 331.54 L445.18 331.42 L445.87 331.31 L446.56 331.2 L447.25 331.09 L447.95 330.99 L448.64 330.9 L449.33 330.81 L450.02 330.72 L450.71 330.64 L451.4 330.56 L452.1 330.48 L452.79 330.41 L453.48 330.34 L454.17 330.27 L454.86 330.21 L455.56 330.15 L456.25 330.09 L456.94 330.03 L457.63 329.98 L458.32 329.93 L459.01 329.88 L459.71 329.83 L460.4 329.79 L461.09 329.74 L461.78 329.7 L468.7 329.7" class="teal"/>
<text x="340.2" y="463.8" class="lab xlab">Log2 fold change (12h/0h)</text>
<text transform="translate(302.9 435.4) rotate(-90)" class="lab ylab">Cumulative proportion</text>
<text x="4.5" y="473.5" class="let">G</text>
<path d="M60.5 465.08 V586.52 H212.3" class="ax"/>
<path d="M59.3 581 H60.5" class="tk"/>
<text x="59.1" y="583" class="yt">0.00</text>
<path d="M59.3 553.4 H60.5" class="tk"/>
<text x="59.1" y="555.4" class="yt">0.25</text>
<path d="M59.3 525.8 H60.5" class="tk"/>
<text x="59.1" y="527.8" class="yt">0.50</text>
<path d="M59.3 498.2 H60.5" class="tk"/>
<text x="59.1" y="500.2" class="yt">0.75</text>
<path d="M59.3 470.6 H60.5" class="tk"/>
<text x="59.1" y="472.6" class="yt">1.00</text>
<path d="M66.22 586.52 V587.72" class="tk"/>
<text x="66.22" y="592.52" class="xt">−1.0</text>
<path d="M100.81 586.52 V587.72" class="tk"/>
<text x="100.81" y="592.52" class="xt">−0.5</text>
<path d="M135.4 586.52 V587.72" class="tk"/>
<text x="135.4" y="592.52" class="xt">0.0</text>
<path d="M169.99 586.52 V587.72" class="tk"/>
<text x="169.99" y="592.52" class="xt">0.5</text>
<path d="M204.58 586.52 V587.72" class="tk"/>
<text x="204.58" y="592.52" class="xt">1.0</text>
<path d="M60.5 581 H67.25 V578.43 H69.72 V575.87 H82.52 V573.3 H82.86 V570.73 H83.19 V568.16 H110.72 V565.6 H112.25 V563.03 H115.33 V560.46 H119.26 V557.89 H119.9 V555.33 H120.54 V552.76 H121.18 V550.19 H122.47 V547.62 H124.34 V545.06 H126.05 V542.49 H128.1 V539.92 H130.4 V537.35 H131.14 V534.79 H131.88 V532.22 H132.63 V529.65 H133.37 V527.08 H133.93 V524.52 H134.46 V521.95 H134.99 V519.38 H135.51 V516.81 H136.09 V514.25 H136.73 V511.68 H137.38 V509.11 H138.39 V506.54 H139.43 V503.98 H141.21 V501.41 H142.32 V498.84 H143.18 V496.27 H144.05 V493.71 H145.15 V491.14 H146.25 V488.57 H149.26 V486 H150.69 V483.44 H156.48 V480.87 H158.06 V478.3 H159.39 V475.73 H160.67 V473.17 H163.77 V470.6 H212.7" class="red"/>
<path d="M60.5 581 L67.42 581 L68.11 580.83 L68.8 580.66 L69.49 580.48 L70.19 580.31 L70.88 580.14 L71.57 579.96 L72.26 579.79 L72.95 579.62 L73.64 579.44 L74.34 579.27 L75.03 579.09 L75.72 578.92 L76.41 578.74 L77.1 578.56 L77.8 578.39 L78.49 578.21 L79.18 578.03 L79.87 577.85 L80.56 577.67 L81.25 577.49 L81.95 577.31 L82.64 577.13 L83.33 576.94 L84.02 576.76 L84.71 576.57 L85.41 576.39 L86.1 576.2 L86.79 576.01 L87.48 575.81 L88.17 575.62 L88.86 575.42 L89.56 575.23 L90.25 575.02 L90.94 574.82 L91.63 574.61 L92.32 574.4 L93.02 574.19 L93.71 573.97 L94.4 573.75 L95.09 573.53 L95.78 573.3 L96.47 573.06 L97.17 572.82 L97.86 572.58 L98.55 572.33 L99.24 572.07 L99.93 571.8 L100.63 571.53 L101.32 571.24 L102.01 570.95 L102.7 570.65 L103.39 570.34 L104.08 570.01 L104.78 569.67 L105.47 569.33 L106.16 568.96 L106.85 568.58 L107.54 568.19 L108.24 567.78 L108.93 567.34 L109.62 566.89 L110.31 566.42 L111 565.93 L111.69 565.41 L112.39 564.87 L113.08 564.3 L113.77 563.71 L114.46 563.08 L115.15 562.42 L115.85 561.73 L116.54 561.01 L117.23 560.25 L117.92 559.45 L118.61 558.61 L119.3 557.73 L120 556.81 L120.69 555.85 L121.38 554.84 L122.07 553.78 L122.76 552.68 L123.46 551.53 L124.15 550.34 L124.84 549.09 L125.53 547.8 L126.22 546.46 L126.91 545.07 L127.61 543.64 L128.3 542.16 L128.99 540.64 L129.68 539.08 L130.37 537.48 L131.07 535.84 L131.76 534.17 L132.45 532.47 L133.14 530.75 L133.83 529 L134.52 527.24 L135.22 525.47 L135.91 523.69 L136.6 521.91 L137.29 520.13 L137.98 518.35 L138.68 516.59 L139.37 514.85 L140.06 513.13 L140.75 511.43 L141.44 509.76 L142.13 508.12 L142.83 506.53 L143.52 504.97 L144.21 503.45 L144.9 501.97 L145.59 500.54 L146.29 499.16 L146.98 497.83 L147.67 496.55 L148.36 495.31 L149.05 494.13 L149.74 492.99 L150.44 491.9 L151.13 490.87 L151.82 489.88 L152.51 488.93 L153.2 488.03 L153.9 487.18 L154.59 486.37 L155.28 485.6 L155.97 484.87 L156.66 484.17 L157.35 483.52 L158.05 482.89 L158.74 482.31 L159.43 481.75 L160.12 481.22 L160.81 480.72 L161.51 480.25 L162.2 479.8 L162.89 479.38 L163.58 478.98 L164.27 478.6 L164.96 478.24 L165.66 477.9 L166.35 477.58 L167.04 477.27 L167.73 476.99 L168.42 476.71 L169.12 476.45 L169.81 476.2 L170.5 475.97 L171.19 475.74 L171.88 475.53 L172.57 475.32 L173.27 475.13 L173.96 474.94 L174.65 474.77 L175.34 474.6 L176.03 474.43 L176.73 474.28 L177.42 474.13 L178.11 473.98 L178.8 473.84 L179.49 473.71 L180.18 473.58 L180.88 473.46 L181.57 473.34 L182.26 473.22 L182.95 473.11 L183.64 473 L184.34 472.9 L185.03 472.8 L185.72 472.7 L186.41 472.6 L187.1 472.51 L187.79 472.41 L188.49 472.33 L189.18 472.24 L189.87 472.15 L190.56 472.07 L191.25 471.99 L191.95 471.91 L192.64 471.83 L193.33 471.76 L194.02 471.68 L194.71 471.61 L195.4 471.54 L196.1 471.47 L196.79 471.4 L197.48 471.33 L198.17 471.27 L198.86 471.2 L199.56 471.14 L200.25 471.07 L200.94 471.01 L201.63 470.95 L202.32 470.89 L203.01 470.83 L203.71 470.77 L204.4 470.71 L205.09 470.66 L205.78 470.6 L212.7 470.6" class="teal"/>
<text x="86.4" y="603.7" class="lab xlab">Log2 fold change (6h/0h)</text>
<text transform="translate(44.8 575.4) rotate(-90)" class="lab ylab">Cumulative proportion</text>
<text x="278.0" y="473.6" class="let">H</text>
<path d="M316.5 465.08 V586.52 H468.7" class="ax"/>
<path d="M315.3 581 H316.5" class="tk"/>
<text x="315.1" y="583" class="yt">0.00</text>
<path d="M315.3 553.4 H316.5" class="tk"/>
<text x="315.1" y="555.4" class="yt">0.25</text>
<path d="M315.3 525.8 H316.5" class="tk"/>
<text x="315.1" y="527.8" class="yt">0.50</text>
<path d="M315.3 498.2 H316.5" class="tk"/>
<text x="315.1" y="500.2" class="yt">0.75</text>
<path d="M315.3 470.6 H316.5" class="tk"/>
<text x="315.1" y="472.6" class="yt">1.00</text>
<path d="M323.42 586.52 V587.72" class="tk"/>
<text x="323.42" y="592.52" class="xt">−1.0</text>
<path d="M358.01 586.52 V587.72" class="tk"/>
<text x="358.01" y="592.52" class="xt">−0.5</text>
<path d="M392.6 586.52 V587.72" class="tk"/>
<text x="392.6" y="592.52" class="xt">0.0</text>
<path d="M427.19 586.52 V587.72" class="tk"/>
<text x="427.19" y="592.52" class="xt">0.5</text>
<path d="M461.78 586.52 V587.72" class="tk"/>
<text x="461.78" y="592.52" class="xt">1.0</text>
<path d="M316.5 581 H327.24 V578.37 H328.32 V575.74 H336.81 V573.11 H337.3 V570.49 H337.81 V567.86 H338.33 V565.23 H347.67 V562.6 H349.61 V559.97 H353.75 V557.34 H354.34 V554.71 H354.92 V552.09 H355.47 V549.46 H356.36 V546.83 H359.33 V544.2 H361.99 V541.57 H364.24 V538.94 H366.93 V536.31 H368.39 V533.69 H369.14 V531.06 H373.13 V528.43 H374.29 V525.8 H375.17 V523.17 H376.34 V520.54 H378.97 V517.91 H379.93 V515.29 H382.34 V512.66 H385.42 V510.03 H386.3 V507.4 H392.23 V504.77 H392.63 V502.14 H395.35 V499.51 H395.96 V496.89 H401.74 V494.26 H402.07 V491.63 H402.4 V489 H402.77 V486.37 H403.15 V483.74 H407.98 V481.11 H408.87 V478.49 H409.3 V475.86 H421.93 V473.23 H456.14 V470.6 H468.7" class="red"/>
<path d="M316.5 581 L323.42 581 L324.11 580.76 L324.8 580.52 L325.49 580.27 L326.19 580.02 L326.88 579.77 L327.57 579.51 L328.26 579.25 L328.95 578.98 L329.64 578.71 L330.34 578.43 L331.03 578.15 L331.72 577.87 L332.41 577.58 L333.1 577.29 L333.8 576.99 L334.49 576.69 L335.18 576.39 L335.87 576.08 L336.56 575.77 L337.25 575.45 L337.95 575.13 L338.64 574.81 L339.33 574.48 L340.02 574.15 L340.71 573.81 L341.41 573.47 L342.1 573.12 L342.79 572.77 L343.48 572.41 L344.17 572.06 L344.86 571.69 L345.56 571.32 L346.25 570.95 L346.94 570.57 L347.63 570.18 L348.32 569.79 L349.02 569.4 L349.71 568.99 L350.4 568.59 L351.09 568.17 L351.78 567.75 L352.47 567.32 L353.17 566.89 L353.86 566.45 L354.55 566 L355.24 565.54 L355.93 565.07 L356.63 564.6 L357.32 564.11 L358.01 563.62 L358.7 563.12 L359.39 562.6 L360.08 562.08 L360.78 561.55 L361.47 561 L362.16 560.44 L362.85 559.87 L363.54 559.28 L364.24 558.69 L364.93 558.07 L365.62 557.45 L366.31 556.81 L367 556.15 L367.69 555.48 L368.39 554.79 L369.08 554.09 L369.77 553.37 L370.46 552.63 L371.15 551.87 L371.85 551.09 L372.54 550.3 L373.23 549.49 L373.92 548.66 L374.61 547.81 L375.3 546.94 L376 546.05 L376.69 545.14 L377.38 544.21 L378.07 543.26 L378.76 542.3 L379.46 541.31 L380.15 540.3 L380.84 539.28 L381.53 538.24 L382.22 537.18 L382.91 536.1 L383.61 535.01 L384.3 533.9 L384.99 532.78 L385.68 531.64 L386.37 530.49 L387.07 529.33 L387.76 528.15 L388.45 526.97 L389.14 525.77 L389.83 524.57 L390.52 523.36 L391.22 522.15 L391.91 520.94 L392.6 519.72 L393.29 518.5 L393.98 517.28 L394.68 516.06 L395.37 514.85 L396.06 513.64 L396.75 512.44 L397.44 511.25 L398.13 510.06 L398.83 508.89 L399.52 507.73 L400.21 506.58 L400.9 505.44 L401.59 504.32 L402.29 503.22 L402.98 502.13 L403.67 501.06 L404.36 500.01 L405.05 498.98 L405.74 497.97 L406.44 496.98 L407.13 496.02 L407.82 495.07 L408.51 494.15 L409.2 493.25 L409.9 492.38 L410.59 491.52 L411.28 490.69 L411.97 489.89 L412.66 489.1 L413.35 488.34 L414.05 487.61 L414.74 486.9 L415.43 486.21 L416.12 485.54 L416.81 484.89 L417.51 484.27 L418.2 483.67 L418.89 483.09 L419.58 482.53 L420.27 481.99 L420.96 481.47 L421.66 480.97 L422.35 480.49 L423.04 480.03 L423.73 479.58 L424.42 479.16 L425.12 478.75 L425.81 478.35 L426.5 477.98 L427.19 477.61 L427.88 477.27 L428.57 476.93 L429.27 476.62 L429.96 476.31 L430.65 476.02 L431.34 475.74 L432.03 475.47 L432.73 475.22 L433.42 474.97 L434.11 474.74 L434.8 474.51 L435.49 474.3 L436.18 474.1 L436.88 473.9 L437.57 473.71 L438.26 473.54 L438.95 473.37 L439.64 473.2 L440.34 473.05 L441.03 472.9 L441.72 472.76 L442.41 472.63 L443.1 472.5 L443.79 472.37 L444.49 472.26 L445.18 472.15 L445.87 472.04 L446.56 471.94 L447.25 471.84 L447.95 471.75 L448.64 471.66 L449.33 471.58 L450.02 471.5 L450.71 471.42 L451.4 471.35 L452.1 471.28 L452.79 471.22 L453.48 471.16 L454.17 471.1 L454.86 471.04 L455.56 470.98 L456.25 470.93 L456.94 470.88 L457.63 470.84 L458.32 470.79 L459.01 470.75 L459.71 470.71 L460.4 470.67 L461.09 470.63 L461.78 470.6 L468.7 470.6" class="teal"/>
<text x="340.2" y="603.7" class="lab xlab">Log2 fold change (12h/0h)</text>
<text transform="translate(302.9 575.4) rotate(-90)" class="lab ylab">Cumulative proportion</text>
<text x="8.6" y="618.5" class="let">I</text>
<path d="M60.5 614.62 V737.49 H212.3" class="ax"/>
<path d="M59.3 731.9 H60.5" class="tk"/>
<text x="59.1" y="733.9" class="yt">0.00</text>
<path d="M59.3 703.98 H60.5" class="tk"/>
<text x="59.1" y="705.98" class="yt">0.25</text>
<path d="M59.3 676.05 H60.5" class="tk"/>
<text x="59.1" y="678.05" class="yt">0.50</text>
<path d="M59.3 648.12 H60.5" class="tk"/>
<text x="59.1" y="650.12" class="yt">0.75</text>
<path d="M59.3 620.2 H60.5" class="tk"/>
<text x="59.1" y="622.2" class="yt">1.00</text>
<path d="M66.22 737.49 V738.69" class="tk"/>
<text x="66.22" y="743.49" class="xt">−1.0</text>
<path d="M100.81 737.49 V738.69" class="tk"/>
<text x="100.81" y="743.49" class="xt">−0.5</text>
<path d="M135.4 737.49 V738.69" class="tk"/>
<text x="135.4" y="743.49" class="xt">0.0</text>
<path d="M169.99 737.49 V738.69" class="tk"/>
<text x="169.99" y="743.49" class="xt">0.5</text>
<path d="M204.58 737.49 V738.69" class="tk"/>
<text x="204.58" y="743.49" class="xt">1.0</text>
<path d="M60.5 731.9 H62.54 V731.12 H67.23 V730.34 H71.26 V729.56 H75.17 V728.78 H79.69 V727.99 H81.25 V727.21 H81.83 V726.43 H82.42 V725.65 H83 V724.87 H84.99 V724.09 H87.67 V723.31 H89.67 V722.53 H91.23 V721.75 H92.79 V720.96 H94.78 V720.18 H97.12 V719.4 H99.28 V718.62 H101.25 V717.84 H103.18 V717.06 H104.35 V716.28 H105.52 V715.5 H106.69 V714.72 H107.86 V713.93 H109.03 V713.15 H110.21 V712.37 H111.38 V711.59 H112.55 V710.81 H113.83 V710.03 H115.12 V709.25 H116.41 V708.47 H117.57 V707.69 H118 V706.9 H118.44 V706.12 H118.87 V705.34 H119.3 V704.56 H119.74 V703.78 H120.17 V703 H120.61 V702.22 H121.04 V701.44 H121.47 V700.66 H121.96 V699.87 H122.45 V699.09 H122.94 V698.31 H123.42 V697.53 H123.91 V696.75 H124.4 V695.97 H124.89 V695.19 H125.38 V694.41 H125.82 V693.63 H126.25 V692.84 H126.68 V692.06 H127.12 V691.28 H127.55 V690.5 H127.98 V689.72 H128.41 V688.94 H128.84 V688.16 H129.27 V687.38 H129.7 V686.6 H130.13 V685.81 H130.55 V685.03 H130.95 V684.25 H131.35 V683.47 H131.75 V682.69 H132.07 V681.91 H132.26 V681.13 H132.44 V680.35 H132.63 V679.57 H132.82 V678.78 H133 V678 H133.19 V677.22 H133.37 V676.44 H133.58 V675.66 H133.84 V674.88 H134.1 V674.1 H134.36 V673.32 H134.62 V672.53 H134.89 V671.75 H135.15 V670.97 H135.41 V670.19 H135.67 V669.41 H135.93 V668.63 H136.19 V667.85 H136.47 V667.07 H136.76 V666.29 H137.05 V665.5 H137.34 V664.72 H137.63 V663.94 H137.91 V663.16 H138.2 V662.38 H138.49 V661.6 H138.78 V660.82 H139.07 V660.04 H139.36 V659.26 H139.64 V658.47 H139.93 V657.69 H140.3 V656.91 H140.69 V656.13 H141.08 V655.35 H141.47 V654.57 H141.95 V653.79 H142.47 V653.01 H142.99 V652.23 H143.51 V651.44 H144.03 V650.66 H144.55 V649.88 H145.07 V649.1 H145.59 V648.32 H146.11 V647.54 H146.85 V646.76 H147.86 V645.98 H148.87 V645.2 H149.71 V644.41 H150.27 V643.63 H150.83 V642.85 H151.38 V642.07 H151.94 V641.29 H152.5 V640.51 H153.06 V639.73 H153.6 V638.95 H154.09 V638.17 H154.58 V637.38 H155.07 V636.6 H155.55 V635.82 H156.04 V635.04 H156.53 V634.26 H157.02 V633.48 H157.51 V632.7 H158.32 V631.92 H159.12 V631.14 H159.93 V630.35 H160.73 V629.57 H161.35 V628.79 H161.98 V628.01 H162.6 V627.23 H163.23 V626.45 H163.85 V625.67 H164.3 V624.89 H164.74 V624.11 H165.18 V623.32 H165.61 V622.54 H166.05 V621.76 H169.19 V620.98 H176.41 V620.2 H212.7" class="red"/>
<path d="M60.5 731.9 L67.42 731.9 L68.11 731.73 L68.8 731.56 L69.49 731.38 L70.19 731.2 L70.88 731.02 L71.57 730.84 L72.26 730.65 L72.95 730.47 L73.64 730.28 L74.34 730.08 L75.03 729.89 L75.72 729.69 L76.41 729.49 L77.1 729.29 L77.8 729.09 L78.49 728.88 L79.18 728.67 L79.87 728.45 L80.56 728.24 L81.25 728.02 L81.95 727.8 L82.64 727.58 L83.33 727.35 L84.02 727.12 L84.71 726.89 L85.41 726.65 L86.1 726.42 L86.79 726.17 L87.48 725.93 L88.17 725.68 L88.86 725.43 L89.56 725.18 L90.25 724.92 L90.94 724.66 L91.63 724.39 L92.32 724.12 L93.02 723.85 L93.71 723.57 L94.4 723.29 L95.09 723.01 L95.78 722.72 L96.47 722.42 L97.17 722.12 L97.86 721.81 L98.55 721.5 L99.24 721.18 L99.93 720.85 L100.63 720.52 L101.32 720.18 L102.01 719.83 L102.7 719.48 L103.39 719.11 L104.08 718.74 L104.78 718.35 L105.47 717.96 L106.16 717.55 L106.85 717.13 L107.54 716.7 L108.24 716.25 L108.93 715.79 L109.62 715.31 L110.31 714.82 L111 714.31 L111.69 713.77 L112.39 713.22 L113.08 712.65 L113.77 712.05 L114.46 711.43 L115.15 710.78 L115.85 710.1 L116.54 709.4 L117.23 708.66 L117.92 707.89 L118.61 707.09 L119.3 706.25 L120 705.38 L120.69 704.47 L121.38 703.51 L122.07 702.52 L122.76 701.48 L123.46 700.4 L124.15 699.27 L124.84 698.1 L125.53 696.88 L126.22 695.62 L126.91 694.31 L127.61 692.95 L128.3 691.55 L128.99 690.1 L129.68 688.61 L130.37 687.08 L131.07 685.51 L131.76 683.9 L132.45 682.26 L133.14 680.59 L133.83 678.89 L134.52 677.18 L135.22 675.44 L135.91 673.69 L136.6 671.93 L137.29 670.17 L137.98 668.41 L138.68 666.66 L139.37 664.92 L140.06 663.2 L140.75 661.5 L141.44 659.82 L142.13 658.17 L142.83 656.56 L143.52 654.98 L144.21 653.44 L144.9 651.95 L145.59 650.5 L146.29 649.09 L146.98 647.74 L147.67 646.43 L148.36 645.18 L149.05 643.97 L149.74 642.81 L150.44 641.71 L151.13 640.65 L151.82 639.64 L152.51 638.68 L153.2 637.76 L153.9 636.89 L154.59 636.06 L155.28 635.28 L155.97 634.53 L156.66 633.83 L157.35 633.16 L158.05 632.52 L158.74 631.92 L159.43 631.35 L160.12 630.82 L160.81 630.31 L161.51 629.83 L162.2 629.37 L162.89 628.94 L163.58 628.53 L164.27 628.14 L164.96 627.77 L165.66 627.43 L166.35 627.1 L167.04 626.78 L167.73 626.49 L168.42 626.21 L169.12 625.94 L169.81 625.68 L170.5 625.44 L171.19 625.21 L171.88 624.99 L172.57 624.78 L173.27 624.58 L173.96 624.39 L174.65 624.21 L175.34 624.03 L176.03 623.86 L176.73 623.7 L177.42 623.55 L178.11 623.4 L178.8 623.26 L179.49 623.12 L180.18 622.99 L180.88 622.87 L181.57 622.75 L182.26 622.63 L182.95 622.52 L183.64 622.41 L184.34 622.3 L185.03 622.2 L185.72 622.1 L186.41 622.01 L187.1 621.92 L187.79 621.83 L188.49 621.74 L189.18 621.66 L189.87 621.57 L190.56 621.5 L191.25 621.42 L191.95 621.34 L192.64 621.27 L193.33 621.2 L194.02 621.13 L194.71 621.07 L195.4 621 L196.1 620.94 L196.79 620.88 L197.48 620.82 L198.17 620.76 L198.86 620.7 L199.56 620.64 L200.25 620.59 L200.94 620.54 L201.63 620.49 L202.32 620.43 L203.01 620.39 L203.71 620.34 L204.4 620.29 L205.09 620.24 L205.78 620.2 L212.7 620.2" class="teal"/>
<text x="86.4" y="755.6" class="lab xlab">Log2 fold change (6h/0h)</text>
<text transform="translate(44.8 726.3) rotate(-90)" class="lab ylab">Cumulative proportion</text>
<text x="279.1" y="618.5" class="let">J</text>
<path d="M316.5 613.61 V736.59 H468.7" class="ax"/>
<path d="M315.3 731 H316.5" class="tk"/>
<text x="315.1" y="733" class="yt">0.00</text>
<path d="M315.3 703.05 H316.5" class="tk"/>
<text x="315.1" y="705.05" class="yt">0.25</text>
<path d="M315.3 675.1 H316.5" class="tk"/>
<text x="315.1" y="677.1" class="yt">0.50</text>
<path d="M315.3 647.15 H316.5" class="tk"/>
<text x="315.1" y="649.15" class="yt">0.75</text>
<path d="M315.3 619.2 H316.5" class="tk"/>
<text x="315.1" y="621.2" class="yt">1.00</text>
<path d="M323.42 736.59 V737.79" class="tk"/>
<text x="323.42" y="742.59" class="xt">−1.0</text>
<path d="M358.01 736.59 V737.79" class="tk"/>
<text x="358.01" y="742.59" class="xt">−0.5</text>
<path d="M392.6 736.59 V737.79" class="tk"/>
<text x="392.6" y="742.59" class="xt">0.0</text>
<path d="M427.19 736.59 V737.79" class="tk"/>
<text x="427.19" y="742.59" class="xt">0.5</text>
<path d="M461.78 736.59 V737.79" class="tk"/>
<text x="461.78" y="742.59" class="xt">1.0</text>
<path d="M316.5 731 H325.3 V730.23 H326.64 V729.47 H327.98 V728.7 H329.32 V727.94 H330.73 V727.17 H332.48 V726.41 H334.23 V725.64 H335.98 V724.87 H337.73 V724.11 H339.34 V723.34 H340.85 V722.58 H342.37 V721.81 H343.89 V721.05 H345.4 V720.28 H346.92 V719.51 H348.33 V718.75 H349.56 V717.98 H350.78 V717.22 H352.01 V716.45 H353.23 V715.68 H354.33 V714.92 H354.59 V714.15 H354.84 V713.39 H355.1 V712.62 H355.35 V711.86 H355.61 V711.09 H355.86 V710.32 H357.22 V709.56 H358.75 V708.79 H359.39 V708.03 H359.78 V707.26 H360.16 V706.5 H360.54 V705.73 H360.93 V704.96 H361.31 V704.2 H362.46 V703.43 H364.38 V702.67 H365.92 V701.9 H366.94 V701.14 H367.96 V700.37 H368.81 V699.6 H369.19 V698.84 H369.57 V698.07 H369.96 V697.31 H370.34 V696.54 H370.72 V695.78 H371.11 V695.01 H372.07 V694.24 H373.02 V693.48 H373.98 V692.71 H374.94 V691.95 H375.42 V691.18 H375.82 V690.42 H376.21 V689.65 H376.6 V688.88 H376.99 V688.12 H377.38 V687.35 H377.83 V686.59 H378.31 V685.82 H378.79 V685.05 H379.27 V684.29 H379.75 V683.52 H380.22 V682.76 H380.7 V681.99 H381.18 V681.23 H381.65 V680.46 H382.11 V679.69 H382.57 V678.93 H383.03 V678.16 H383.49 V677.4 H383.96 V676.63 H384.54 V675.87 H385.11 V675.1 H385.69 V674.33 H386.26 V673.57 H386.79 V672.8 H387.31 V672.04 H387.83 V671.27 H388.16 V670.51 H388.4 V669.74 H388.63 V668.97 H388.87 V668.21 H389.11 V667.44 H389.35 V666.68 H389.59 V665.91 H389.82 V665.15 H390.06 V664.38 H390.3 V663.61 H390.54 V662.85 H390.78 V662.08 H391.01 V661.32 H391.28 V660.55 H391.67 V659.78 H392.05 V659.02 H392.43 V658.25 H392.81 V657.49 H393.2 V656.72 H393.58 V655.96 H393.96 V655.19 H394.35 V654.42 H394.79 V653.66 H395.25 V652.89 H395.71 V652.13 H396.17 V651.36 H396.63 V650.6 H400.09 V649.83 H400.44 V649.06 H400.8 V648.3 H401.15 V647.53 H401.51 V646.77 H401.86 V646 H402.22 V645.24 H402.57 V644.47 H402.93 V643.7 H403.55 V642.94 H405.03 V642.17 H406.37 V641.41 H406.83 V640.64 H407.29 V639.88 H407.74 V639.11 H408.2 V638.34 H408.66 V637.58 H409.26 V636.81 H409.88 V636.05 H410.49 V635.28 H411.1 V634.52 H411.71 V633.75 H416.05 V632.98 H416.93 V632.22 H417.8 V631.45 H418.68 V630.69 H419.55 V629.92 H420.52 V629.15 H421.54 V628.39 H422.56 V627.62 H423.58 V626.86 H424.6 V626.09 H426.36 V625.33 H428.2 V624.56 H430.39 V623.79 H433.45 V623.03 H436.21 V622.26 H437.74 V621.5 H440.09 V620.73 H448.93 V619.97 H464.21 V619.2 H468.7" class="red"/>
<path d="M316.5 731 L323.42 731 L324.11 730.78 L324.8 730.56 L325.49 730.34 L326.19 730.11 L326.88 729.88 L327.57 729.65 L328.26 729.42 L328.95 729.18 L329.64 728.94 L330.34 728.69 L331.03 728.44 L331.72 728.19 L332.41 727.93 L333.1 727.68 L333.8 727.41 L334.49 727.15 L335.18 726.88 L335.87 726.6 L336.56 726.32 L337.25 726.04 L337.95 725.76 L338.64 725.47 L339.33 725.17 L340.02 724.87 L340.71 724.57 L341.41 724.26 L342.1 723.94 L342.79 723.62 L343.48 723.3 L344.17 722.97 L344.86 722.63 L345.56 722.29 L346.25 721.94 L346.94 721.59 L347.63 721.22 L348.32 720.86 L349.02 720.48 L349.71 720.1 L350.4 719.71 L351.09 719.31 L351.78 718.9 L352.47 718.49 L353.17 718.06 L353.86 717.63 L354.55 717.19 L355.24 716.74 L355.93 716.27 L356.63 715.8 L357.32 715.32 L358.01 714.82 L358.7 714.31 L359.39 713.79 L360.08 713.26 L360.78 712.72 L361.47 712.16 L362.16 711.58 L362.85 711 L363.54 710.39 L364.24 709.78 L364.93 709.14 L365.62 708.49 L366.31 707.83 L367 707.14 L367.69 706.44 L368.39 705.72 L369.08 704.98 L369.77 704.22 L370.46 703.45 L371.15 702.65 L371.85 701.84 L372.54 701 L373.23 700.15 L373.92 699.27 L374.61 698.37 L375.3 697.46 L376 696.52 L376.69 695.56 L377.38 694.58 L378.07 693.58 L378.76 692.56 L379.46 691.53 L380.15 690.47 L380.84 689.39 L381.53 688.29 L382.22 687.18 L382.91 686.05 L383.61 684.9 L384.3 683.74 L384.99 682.57 L385.68 681.38 L386.37 680.17 L387.07 678.96 L387.76 677.74 L388.45 676.51 L389.14 675.27 L389.83 674.02 L390.52 672.77 L391.22 671.52 L391.91 670.27 L392.6 669.01 L393.29 667.76 L393.98 666.51 L394.68 665.27 L395.37 664.03 L396.06 662.8 L396.75 661.58 L397.44 660.36 L398.13 659.16 L398.83 657.98 L399.52 656.8 L400.21 655.65 L400.9 654.51 L401.59 653.38 L402.29 652.28 L402.98 651.19 L403.67 650.13 L404.36 649.09 L405.05 648.06 L405.74 647.06 L406.44 646.09 L407.13 645.13 L407.82 644.2 L408.51 643.29 L409.2 642.41 L409.9 641.55 L410.59 640.71 L411.28 639.9 L411.97 639.11 L412.66 638.34 L413.35 637.6 L414.05 636.88 L414.74 636.19 L415.43 635.51 L416.12 634.86 L416.81 634.23 L417.51 633.62 L418.2 633.04 L418.89 632.47 L419.58 631.92 L420.27 631.39 L420.96 630.89 L421.66 630.39 L422.35 629.92 L423.04 629.47 L423.73 629.03 L424.42 628.61 L425.12 628.2 L425.81 627.81 L426.5 627.43 L427.19 627.07 L427.88 626.72 L428.57 626.39 L429.27 626.07 L429.96 625.76 L430.65 625.46 L431.34 625.17 L432.03 624.9 L432.73 624.63 L433.42 624.38 L434.11 624.14 L434.8 623.9 L435.49 623.67 L436.18 623.46 L436.88 623.25 L437.57 623.05 L438.26 622.85 L438.95 622.67 L439.64 622.49 L440.34 622.32 L441.03 622.15 L441.72 621.99 L442.41 621.84 L443.1 621.69 L443.79 621.55 L444.49 621.41 L445.18 621.28 L445.87 621.15 L446.56 621.03 L447.25 620.91 L447.95 620.8 L448.64 620.69 L449.33 620.58 L450.02 620.48 L450.71 620.38 L451.4 620.29 L452.1 620.2 L452.79 620.11 L453.48 620.03 L454.17 619.94 L454.86 619.86 L455.56 619.79 L456.25 619.71 L456.94 619.64 L457.63 619.57 L458.32 619.5 L459.01 619.44 L459.71 619.38 L460.4 619.32 L461.09 619.26 L461.78 619.2 L468.7 619.2" class="teal"/>
<text x="340.2" y="755.6" class="lab xlab">Log2 fold change (12h/0h)</text>
<text transform="translate(302.9 725.4) rotate(-90)" class="lab ylab">Cumulative proportion</text>
<rect x="160" y="76" width="137.5" height="42" fill="#fff"/>
<text x="185.5" y="86.4" class="lab lgt">LDIR-CLIP and PAR-CLIP</text>
<text x="185.5" y="96.8" class="lab">Target n= <tspan fill="#e8222a" stroke="#e8222a">64</tspan></text>
<text x="185.5" y="107.1" class="lab">Non-target n= <tspan fill="#e8222a" stroke="#e8222a">17,791</tspan></text>
<path d="M164.1 94.5 h13.6" stroke="#f6887e" stroke-width="1.8"/>
<path d="M164.1 104.8 h13.6" stroke="#22c2c2" stroke-width="1.8"/>
<text x="440.6" y="86.4" class="lab lgt">LDIR-CLIP and PAR-CLIP</text>
<text x="440.6" y="96.8" class="lab">Target n= <tspan fill="#e8222a" stroke="#e8222a">65</tspan></text>
<text x="440.6" y="107.1" class="lab">Non-target n= <tspan fill="#e8222a" stroke="#e8222a">18,300</tspan></text>
<path d="M417.2 94.5 h13.6" stroke="#f6887e" stroke-width="1.8"/>
<path d="M417.2 104.8 h13.6" stroke="#22c2c2" stroke-width="1.8"/>
<text x="185.5" y="231.8" class="lab lgt">PAR-CLIP target</text>
<text x="185.5" y="242.2" class="lab">Target n= <tspan fill="#e8222a" stroke="#e8222a">7962</tspan></text>
<text x="185.5" y="252.5" class="lab">Non-target n= <tspan fill="#e8222a" stroke="#e8222a">9893</tspan></text>
<path d="M164.1 239.9 h13.6" stroke="#f6887e" stroke-width="1.8"/>
<path d="M164.1 250.2 h13.6" stroke="#22c2c2" stroke-width="1.8"/>
<text x="440.6" y="231.8" class="lab lgt">PAR-CLIP target</text>
<text x="440.6" y="242.2" class="lab">Target n= <tspan fill="#e8222a" stroke="#e8222a">8014</tspan></text>
<text x="440.6" y="252.5" class="lab">Non-target n= <tspan fill="#e8222a" stroke="#e8222a">10,351</tspan></text>
<path d="M417.2 239.9 h13.6" stroke="#f6887e" stroke-width="1.8"/>
<path d="M417.2 250.2 h13.6" stroke="#22c2c2" stroke-width="1.8"/>
<text x="185.5" y="372.9" class="lab lgt">0.02 Gy target</text>
<text x="185.5" y="383.3" class="lab">Target n= <tspan fill="#e8222a" stroke="#e8222a">124</tspan></text>
<text x="185.5" y="393.6" class="lab">Non-target n= <tspan fill="#e8222a" stroke="#e8222a">17,731</tspan></text>
<path d="M164.1 381 h13.6" stroke="#f6887e" stroke-width="1.8"/>
<path d="M164.1 391.3 h13.6" stroke="#22c2c2" stroke-width="1.8"/>
<text x="440.6" y="372.9" class="lab lgt">0.02 Gy target</text>
<text x="440.6" y="383.3" class="lab">Target n= <tspan fill="#e8222a" stroke="#e8222a">127</tspan></text>
<text x="440.6" y="393.6" class="lab">Non-target n= <tspan fill="#e8222a" stroke="#e8222a">18,238</tspan></text>
<path d="M417.2 381 h13.6" stroke="#f6887e" stroke-width="1.8"/>
<path d="M417.2 391.3 h13.6" stroke="#22c2c2" stroke-width="1.8"/>
<text x="185.5" y="516.5" class="lab lgt">5 Gy target</text>
<text x="185.5" y="526.9" class="lab">Target n= <tspan fill="#e8222a" stroke="#e8222a">43</tspan></text>
<text x="185.5" y="537.2" class="lab">Non-target n= <tspan fill="#e8222a" stroke="#e8222a">17,813</tspan></text>
<path d="M164.1 524.6 h13.6" stroke="#f6887e" stroke-width="1.8"/>
<path d="M164.1 534.9 h13.6" stroke="#22c2c2" stroke-width="1.8"/>
<text x="440.6" y="516.5" class="lab lgt">5 Gy target</text>
<text x="440.6" y="526.9" class="lab">Target n= <tspan fill="#e8222a" stroke="#e8222a">42</tspan></text>
<text x="440.6" y="537.2" class="lab">Non-target n= <tspan fill="#e8222a" stroke="#e8222a">18,323</tspan></text>
<path d="M417.2 524.6 h13.6" stroke="#f6887e" stroke-width="1.8"/>
<path d="M417.2 534.9 h13.6" stroke="#22c2c2" stroke-width="1.8"/>
<text x="185.5" y="660.4" class="lab lgt">All Gy target</text>
<text x="185.5" y="670.8" class="lab">Target n= <tspan fill="#e8222a" stroke="#e8222a">143</tspan></text>
<text x="185.5" y="681.1" class="lab">Non-target n= <tspan fill="#e8222a" stroke="#e8222a">17,712</tspan></text>
<path d="M164.1 668.5 h13.6" stroke="#f6887e" stroke-width="1.8"/>
<path d="M164.1 678.8 h13.6" stroke="#22c2c2" stroke-width="1.8"/>
<text x="440.6" y="660.4" class="lab lgt">All Gy target</text>
<text x="440.6" y="670.8" class="lab">Target n= <tspan fill="#e8222a" stroke="#e8222a">146</tspan></text>
<text x="440.6" y="681.1" class="lab">Non-target n= <tspan fill="#e8222a" stroke="#e8222a">18,219</tspan></text>
<path d="M417.2 668.5 h13.6" stroke="#f6887e" stroke-width="1.8"/>
<path d="M417.2 678.8 h13.6" stroke="#22c2c2" stroke-width="1.8"/>
<text x="69.7" y="24.8" class="lab">Irradiation 6 hours vs 0 hour</text>
<text x="333.5" y="25.1" class="lab">Irradiation 12 hours vs 0 hour</text>
</svg></body></html>
